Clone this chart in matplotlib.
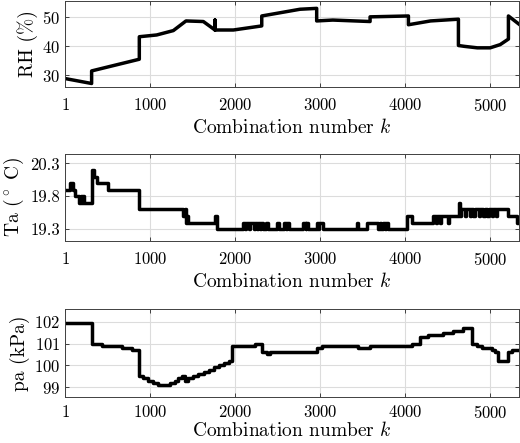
import numpy as np
import matplotlib.pyplot as plt

plt.rcParams['font.family'] = 'serif'
plt.rcParams['font.serif'] = ['cmr10', 'DejaVu Serif']
plt.rcParams['mathtext.fontset'] = 'cm'
plt.rcParams['axes.formatter.use_mathtext'] = True

# relative humidity (piecewise, vertical jumps given as repeated k)
rh_k = [1, 314, 314, 875, 875, 1079, 1275, 1424, 1628, 1765, 1765, 1765, 1981, 2315, 2315,
        2648, 2765, 2961, 2961, 3150, 3589, 3589, 4040, 4040, 4300, 4628, 4628, 4700, 4850,
        5001, 5119, 5216, 5216, 5340]
rh_v = [28.9, 27.2, 31.5, 35.5, 43.2, 43.8, 45.3, 48.6, 48.4, 45.5, 48.9, 45.5, 45.5, 46.9, 50.3,
        52.0, 52.6, 52.9, 48.6, 48.9, 48.4, 50.0, 50.3, 47.3, 48.6, 49.2, 40.2, 39.9, 39.4,
        39.4, 40.5, 42.4, 50.3, 47.5]

# ambient temperature (steps)
ta_k = [1, 60, 100, 115, 170, 185, 200, 215, 230, 314, 340, 380, 510, 875, 1393, 1410, 1420,
        1430, 1445, 1760, 1790, 2100, 2120, 2135, 2170, 2180, 2220, 2230, 2260, 2270, 2300,
        2310, 2330, 2370, 2385, 2500, 2520, 2580, 2595, 2615, 2630, 2800, 2830, 2840, 2860,
        2960, 2975, 2985, 3040, 3430, 3445, 3550, 3680, 3700, 3720, 3740, 3760, 3780, 3795,
        4020, 4080, 4333, 4360, 4380, 4410, 4425, 4500, 4520, 4630, 4645, 4660, 4700, 4720,
        4760, 4780, 4800, 4820, 4870, 4885, 4920, 4935, 4970, 4985, 5020, 5035, 5070, 5085,
        5216, 5320, 5340]
ta_v = [19.9, 20.0, 19.9, 19.8, 19.7, 19.8, 19.7, 19.8, 19.7, 20.2, 20.1, 20.0, 19.9, 19.6,
        19.5, 19.6, 19.4, 19.5, 19.4, 19.5, 19.3, 19.4, 19.3, 19.4, 19.3, 19.4, 19.3, 19.4,
        19.3, 19.4, 19.3, 19.4, 19.3, 19.4, 19.3, 19.4, 19.3, 19.4, 19.3, 19.4, 19.3, 19.4,
        19.3, 19.4, 19.3, 19.4, 19.3, 19.4, 19.3, 19.4, 19.3, 19.4, 19.3, 19.4, 19.3, 19.4,
        19.3, 19.4, 19.3, 19.5, 19.4, 19.5, 19.4, 19.5, 19.4, 19.5, 19.4, 19.5, 19.7, 19.5,
        19.6, 19.5, 19.6, 19.5, 19.6, 19.5, 19.6, 19.5, 19.6, 19.5, 19.6, 19.5, 19.6, 19.5,
        19.6, 19.5, 19.6, 19.5, 19.4, 19.4]

# ambient pressure (steps)
pa_k = [1, 314, 431, 667, 784, 875, 922, 980, 1040, 1098, 1235, 1294, 1333, 1373, 1412, 1451,
        1510, 1570, 1630, 1690, 1750, 1810, 1870, 1930, 1965, 2235, 2314, 2373, 2412, 2962,
        3020, 3451, 3589, 4079, 4177, 4275, 4451, 4569, 4686, 4785, 4844, 4903, 5020, 5060,
        5098, 5216, 5255, 5340]
pa_v = [101.95, 101.0, 100.9, 100.8, 100.7, 99.5, 99.4, 99.3, 99.2, 99.1, 99.2, 99.3, 99.4,
        99.5, 99.3, 99.4, 99.5, 99.6, 99.7, 99.8, 99.9, 100.0, 100.1, 100.2, 100.9, 101.0,
        100.6, 100.5, 100.6, 100.8, 100.9, 100.8, 100.9, 101.0, 101.3, 101.4, 101.5, 101.6,
        101.7, 101.0, 100.9, 100.8, 100.7, 100.6, 100.2, 100.6, 100.7, 100.7]

xticks = [1, 1000, 2000, 3000, 4000, 5000]

fig = plt.figure(figsize=(5.2, 4.43), dpi=100)
ax1 = fig.add_axes([0.125, 0.8036, 0.873, 0.194])
ax2 = fig.add_axes([0.125, 0.456, 0.873, 0.196])
ax3 = fig.add_axes([0.125, 0.1038, 0.873, 0.199])

ax1.plot(rh_k, rh_v, color='k', lw=2.5)
ax2.plot(ta_k, ta_v, color='k', lw=2.5, drawstyle='steps-post')
ax3.plot(pa_k, pa_v, color='k', lw=2.5, drawstyle='steps-post')

ax1.set_ylim(26, 55.4)
ax1.set_yticks([30, 40, 50])
ax1.set_ylabel('RH (%)', fontsize=14, labelpad=3)
ax2.set_ylim(19.12, 20.44)
ax2.set_yticks([19.3, 19.8, 20.3])
ax2.set_yticklabels(['19.3', '19.8', '20.3'])
ax2.set_ylabel(r'Ta ($^\circ$ C)', fontsize=14, labelpad=3)
ax3.set_ylim(98.54, 102.6)
ax3.set_yticks([99, 100, 101, 102])
ax3.set_ylabel('pa (kPa)', fontsize=14, labelpad=3)

for ax in (ax1, ax2, ax3):
    ax.set_xlim(1, 5340)
    ax.set_xticks(xticks)
    ax.grid(True, color='#dcdcdc', lw=0.8)
    ax.tick_params(direction='in', top=True, right=True, labelsize=12, length=3,
                   color='#262626', width=0.6)
    for s in ax.spines.values():
        s.set_color('#404040')
        s.set_linewidth(0.7)

for ax in (ax1, ax2):
    ax.set_xlabel(r'Combination number $k$', fontsize=14, labelpad=3)
    ax.tick_params(axis='x', pad=7)
ax3.set_xlabel(r'Combination number $k$', fontsize=14, labelpad=0)
ax3.tick_params(axis='x', pad=5)

fig.savefig('out.png', dpi=100)
